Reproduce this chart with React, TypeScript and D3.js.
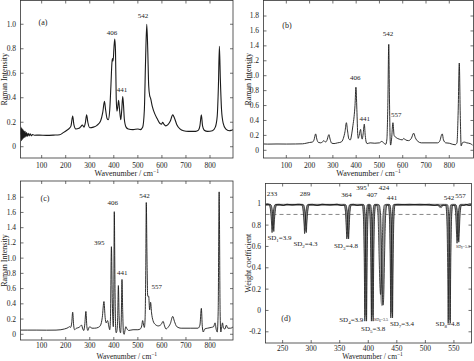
import React from 'react'
import * as d3 from 'd3'

type Pt = [number, number]

// tick values
const specXTicks = [100, 200, 300, 400, 500, 600, 700, 800]
const yTicksA = [0, 0.2, 0.4, 0.6, 0.8, 1.0]
const yTicksBC = [0, 0.2, 0.4, 0.6, 0.8, 1.0, 1.2, 1.4, 1.6, 1.8]
const xTicksD = [250, 300, 350, 400, 450, 500, 550]
const yTicksD = [-0.2, 0, 0.2, 0.4, 0.6, 0.8, 1]

// (a) measured spectrum
const specA: Pt[] = [
  [12, 0.1], [14, 0.16], [16, 0.05], [18, 0.15], [20, 0.06], [22, 0.14], [24, 0.07], [26, 0.13],
  [28, 0.075], [31, 0.125], [34, 0.08], [37, 0.115], [40, 0.085], [44, 0.11], [48, 0.088],
  [52, 0.105], [57, 0.09], [62, 0.1], [70, 0.094], [90, 0.095], [120, 0.093], [150, 0.095],
  [175, 0.098], [190, 0.115], [205, 0.135], [215, 0.15], [222, 0.17], [229, 0.25], [234, 0.18],
  [242, 0.145], [255, 0.15], [263, 0.165], [269, 0.178], [276, 0.16], [282, 0.2], [287, 0.26],
  [292, 0.2], [300, 0.155], [315, 0.16], [330, 0.175], [345, 0.21], [354, 0.28], [361, 0.37],
  [366, 0.3], [372, 0.23], [377, 0.22], [383, 0.3], [388, 0.5], [392, 0.68], [394, 0.72],
  [397, 0.7], [401, 0.82], [404, 0.88], [407, 0.78], [410, 0.4], [413, 0.29], [416, 0.32],
  [420, 0.38], [424, 0.3], [429, 0.22], [433, 0.3], [437, 0.41], [440, 0.35], [444, 0.22],
  [451, 0.16], [460, 0.145], [480, 0.14], [500, 0.145], [510, 0.14], [520, 0.16], [527, 0.3],
  [532, 0.7], [537, 1.0], [541, 0.8], [545, 0.5], [549, 0.42], [553, 0.395], [560, 0.33],
  [570, 0.27], [580, 0.23], [592, 0.19], [599, 0.185], [603, 0.2], [608, 0.185], [616, 0.17],
  [625, 0.18], [635, 0.21], [645, 0.26], [652, 0.235], [662, 0.18], [675, 0.145], [690, 0.13],
  [710, 0.125], [740, 0.125], [752, 0.135], [758, 0.17], [764, 0.26], [769, 0.17], [776, 0.135],
  [790, 0.125], [810, 0.13], [822, 0.16], [830, 0.25], [835, 0.5], [839, 0.82], [843, 0.55],
  [848, 0.3], [855, 0.19], [865, 0.145], [880, 0.13], [890, 0.135], [897, 0.14],
]

// (b) reconstructed spectrum
const specB: Pt[] = [
  [3, 0.085], [20, 0.083], [60, 0.085], [100, 0.084], [140, 0.085], [170, 0.087], [185, 0.095],
  [200, 0.105], [212, 0.11], [219, 0.14], [226, 0.22], [231, 0.15], [238, 0.105], [248, 0.1],
  [256, 0.115], [262, 0.13], [268, 0.11], [274, 0.13], [283, 0.21], [288, 0.15], [295, 0.095],
  [305, 0.09], [320, 0.1], [335, 0.11], [345, 0.16], [352, 0.25], [358, 0.37], [363, 0.26],
  [369, 0.15], [375, 0.14], [381, 0.22], [386, 0.33], [391, 0.45], [395, 0.6], [399, 0.845],
  [403, 0.55], [407, 0.2], [409, 0.16], [413, 0.2], [419, 0.28], [423, 0.18], [426, 0.15],
  [430, 0.22], [435, 0.35], [439, 0.2], [443, 0.11], [447, 0.09], [460, 0.1], [480, 0.095],
  [500, 0.1], [510, 0.12], [518, 0.1], [527, 0.08], [532, 0.15], [536, 0.6], [540, 1.42],
  [543, 0.7], [546, 0.15], [548, 0.07], [552, 0.15], [558, 0.37], [563, 0.2], [572, 0.17],
  [585, 0.15], [598, 0.14], [605, 0.16], [612, 0.14], [625, 0.13], [637, 0.16], [647, 0.23],
  [654, 0.17], [665, 0.12], [680, 0.1], [700, 0.1], [730, 0.1], [750, 0.1], [760, 0.13],
  [766, 0.2], [770, 0.22], [775, 0.14], [785, 0.1], [800, 0.095], [815, 0.08], [825, 0.075],
  [833, 0.1], [838, 0.5], [843, 1.17], [847, 0.5], [851, 0.06], [856, 0.1], [865, 0.11],
  [875, 0.1], [890, 0.09], [900, 0.07],
]

// (c) reconstructed spectrum, sharper bands
const specC: Pt[] = [
  [12, 0.055], [40, 0.055], [80, 0.055], [120, 0.054], [160, 0.055], [180, 0.06], [195, 0.07],
  [205, 0.08], [211, 0.09], [216, 0.1], [220, 0.09], [225, 0.15], [229, 0.29], [233, 0.12],
  [237, 0.06], [245, 0.08], [255, 0.09], [262, 0.11], [266, 0.12], [271, 0.07], [275, 0.05],
  [279, 0.12], [284, 0.3], [288, 0.1], [292, 0.05], [297, 0.09], [301, 0.1], [308, 0.08],
  [320, 0.08], [335, 0.09], [345, 0.12], [352, 0.22], [359, 0.43], [364, 0.22], [368, 0.15],
  [374, 0.18], [379, 0.11], [383, 0.06], [386, 0.2], [390, 1.15], [394, 0.4], [398, 0.1],
  [400, 0.5], [402, 1.61], [405, 0.6], [408, 0.05], [410, 0.02], [413, 0.05], [416, 0.2],
  [419, 0.64], [422, 0.25], [425, 0.05], [428, 0.02], [431, 0.2], [434, 0.72], [437, 0.3],
  [440, 0.02], [443, 0.0], [447, 0.06], [450, 0.1], [455, 0.07], [462, 0.05], [480, 0.06],
  [500, 0.06], [510, 0.07], [516, 0.11], [520, 0.18], [524, 0.12], [527, 0.09], [530, 0.2],
  [533, 0.9], [535, 1.73], [538, 1.0], [541, 0.5], [545, 0.5], [549, 0.32], [553, 0.42],
  [557, 0.28], [563, 0.18], [572, 0.13], [585, 0.11], [597, 0.13], [605, 0.17], [611, 0.11],
  [617, 0.07], [625, 0.09], [635, 0.14], [645, 0.235], [652, 0.17], [662, 0.1], [680, 0.08],
  [720, 0.08], [750, 0.08], [758, 0.12], [764, 0.34], [768, 0.1], [772, 0.03], [778, 0.07],
  [790, 0.08], [805, 0.09], [815, 0.1], [821, 0.15], [826, 0.06], [830, 0.03], [834, 0.3],
  [838, 1.87], [842, 0.3], [845, 0.03], [848, 0.08], [852, 0.15], [856, 0.08], [862, 0.07],
  [868, 0.12], [874, 0.08], [885, 0.08], [897, 0.1],
]

// (d) weight coefficient curves
const weightLeft: Pt[] = [
  [220, 0.99], [224, 0.995],
  [226.5, 0.99], [229, 0.93], [230.7, 0.81], [231.5, 0.73], [232.3, 0.81], [234, 0.93], [236.5, 0.99],
  [244, 0.995], [251, 0.985], [256, 0.995], [266, 0.99], [276, 0.995],
  [283.5, 0.99], [286, 0.93], [287.7, 0.8], [288.5, 0.72], [289.3, 0.8], [291, 0.93], [293.5, 0.99],
  [302, 0.995], [310, 0.985], [318, 0.995], [332, 0.99], [345, 0.995], [352, 0.985],
  [357.5, 0.99], [360, 0.93], [361.7, 0.75], [362.5, 0.67], [363.3, 0.75], [365, 0.93], [367.5, 0.99],
  [374, 0.995], [380, 0.985], [385, 0.99],
  [389.5, 0.99], [391.5, 0.88], [393.2, 0.35], [394, -0.1], [394.8, 0.35], [396.5, 0.88], [398.5, 0.99],
  [401, 0.99], [403, 0.88], [404.7, 0.35], [405.5, -0.1], [406.3, 0.35], [408, 0.88], [410, 0.99],
  [414.5, 0.99], [417, 0.9], [419, 0.5], [420.5, 0.22], [421.5, 0.15], [422.5, 0.22], [424, 0.5], [426, 0.9], [428.5, 0.99],
  [435, 0.99], [437, 0.88], [438.7, 0.35], [439.5, -0.07], [440.3, 0.35], [442, 0.88], [444, 0.99],
  [452, 0.995], [470, 0.99], [490, 0.995], [505, 0.99], [515, 0.985], [521, 0.99], [526, 0.965], [529, 0.99], [532, 0.985],
  [535.5, 0.99], [537.5, 0.88], [539.2, 0.35], [540, -0.12], [540.8, 0.35], [542.5, 0.88], [544.5, 0.99],
  [548, 0.985],
  [550.5, 0.99], [553, 0.92], [554.7, 0.71], [555.5, 0.63], [556.3, 0.71], [558, 0.92], [560.5, 0.99],
  [566, 0.985], [571, 0.995], [575, 0.985], [580, 0.99],
]

const weightRight: Pt[] = [
  [220, 0.99], [226, 0.995],
  [229.5, 0.99], [232, 0.93], [233.7, 0.82], [234.5, 0.74], [235.3, 0.82], [237, 0.93], [239.5, 0.99],
  [246, 0.99], [252, 0.985], [258, 0.995], [268, 0.99], [279, 0.995],
  [286.5, 0.99], [289, 0.93], [290.7, 0.81], [291.5, 0.73], [292.3, 0.81], [294, 0.93], [296.5, 0.99],
  [304, 0.99], [312, 0.985], [320, 0.995], [334, 0.99], [346, 0.995], [354, 0.985],
  [360.5, 0.99], [363, 0.93], [364.7, 0.75], [365.5, 0.67], [366.3, 0.75], [368, 0.93], [370.5, 0.99],
  [376, 0.99], [382, 0.985], [388, 0.99],
  [392.5, 0.99], [394.5, 0.88], [396.2, 0.35], [397, -0.1], [397.8, 0.35], [399.5, 0.88], [401.5, 0.99],
  [404, 0.99], [406, 0.88], [407.7, 0.35], [408.5, -0.1], [409.3, 0.35], [411, 0.88], [413, 0.99],
  [419, 0.99], [421.5, 0.9], [423.5, 0.5], [425, 0.12], [426, 0.05], [427, 0.12], [428.5, 0.5], [430.5, 0.9], [433, 0.99],
  [438, 0.99], [440, 0.88], [441.7, 0.35], [442.5, -0.07], [443.3, 0.35], [445, 0.88], [447, 0.99],
  [455, 0.99], [472, 0.995], [492, 0.99], [507, 0.995], [517, 0.985], [523, 0.99], [528, 0.965], [531, 0.99], [534, 0.985],
  [539, 0.99], [541, 0.88], [542.7, 0.35], [543.5, -0.12], [544.3, 0.35], [546, 0.88], [548, 0.99],
  [550, 0.985],
  [553.5, 0.99], [556, 0.92], [557.7, 0.72], [558.5, 0.64], [559.3, 0.72], [561, 0.92], [563.5, 0.99],
  [568, 0.985], [573, 0.995], [577, 0.985], [580, 0.99],
]

const weightMid: Pt[] = [
  [220, 0.99],
  [228, 0.99], [230.5, 0.93], [232.2, 0.83], [233, 0.76], [233.8, 0.83], [235.5, 0.93], [238, 0.99],
  [285, 0.99], [287.5, 0.93], [289.2, 0.82], [290, 0.75], [290.8, 0.82], [292.5, 0.93], [295, 0.99],
  [359, 0.99], [361.5, 0.93], [363.2, 0.77], [364, 0.7], [364.8, 0.77], [366.5, 0.93], [369, 0.99],
  [391, 0.99], [393, 0.88], [394.7, 0.4], [395.5, -0.05], [396.3, 0.4], [398, 0.88], [400, 0.99],
  [402.5, 0.99], [404.5, 0.88], [406.2, 0.4], [407, -0.05], [407.8, 0.4], [409.5, 0.88], [411.5, 0.99],
  [417, 0.99], [419.5, 0.9], [421.5, 0.5], [423, 0.12], [424, 0.05], [425, 0.12], [426.5, 0.5], [428.5, 0.9], [431, 0.99],
  [436.5, 0.99], [438.5, 0.88], [440.2, 0.4], [441, -0.02], [441.8, 0.4], [443.5, 0.88], [445.5, 0.99],
  [537, 0.99], [539, 0.88], [541.2, 0.4], [542, -0.08], [542.8, 0.4], [544.5, 0.88], [546.5, 0.99],
  [552, 0.99], [554.5, 0.92], [556.2, 0.73], [557, 0.66], [557.8, 0.73], [559.5, 0.92], [562, 0.99],
  [580, 0.99],
]

const threshold = 0.9

// annotations: [text, wavenumber, value]
const peaksA: [string, number, number][] = [['406', 392.5, 0.915], ['441', 434, 0.45], ['542', 521, 1.054]]
const peaksB: [string, number, number][] = [['542', 536.7, 1.536], ['406', 396.3, 0.946], ['441', 436.7, 0.397], ['557', 572.3, 0.45]]
const peaksC: [string, number, number][] = [['406', 395.4, 1.692], ['542', 528, 1.796], ['395', 339.7, 1.167], ['441', 435.3, 0.785], ['557', 578.4, 0.595]]
const peaksD: [string, number, number][] = [
  ['233', 231.4, 1.069], ['289', 289.2, 1.069], ['364', 361.8, 1.06], ['395', 388.1, 1.125], ['407', 406.5, 1.06],
  ['424', 427.5, 1.125], ['441', 441.5, 1.04], ['542', 541.3, 1.04], ['557', 561.4, 1.055],
]
// [index, sd value, wavenumber, value, small]
const sdLabels: [string, string, number, number, boolean][] = [
  ['1', '3.9', 244.5, 0.657, false], ['2', '4.3', 290, 0.606, false], ['3', '4.8', 361, 0.581, false],
  ['4', '3.9', 370.2, -0.109, false], ['5', '3.8', 408.6, -0.19, false], ['6', '3.5', 422.2, -0.1, true],
  ['7', '3.4', 459, -0.15, false], ['8', '4.8', 539, -0.15, false], ['9', '5.3', 565.8, 0.588, true],
]

const FONT = 'Liberation Serif, Times New Roman, serif'

interface PanelCfg {
  id: string
  box: { l: number; r: number; t: number; b: number }
  xDomain: [number, number]
  yDomain: [number, number]
  xTicks: number[]
  yTicks: number[]
  fmt: (v: number) => string
  yTitle: string
  yTitleX: number
  xTitleY: number
  xLabelGap: number
  tag: [number, number]
}

const fmtSpec = (v: number) => (v === 0 ? '0' : v.toFixed(1))
const fmtD = (v: number) => (v === 0 ? '0' : v === 1 ? '1' : v.toFixed(1))

const cfgA: PanelCfg = {
  id: 'a', box: { l: 20.5, r: 233, t: 0.5, b: 158 }, xDomain: [12, 895.6], yDomain: [-0.092, 1.194],
  xTicks: specXTicks, yTicks: yTicksA, fmt: fmtSpec, yTitle: 'Raman Intensity', yTitleX: 6.5, xTitleY: 176,
  xLabelGap: 9.5, tag: [105.6, 0.997],
}
const cfgB: PanelCfg = {
  id: 'b', box: { l: 263.5, r: 473.5, t: 0.5, b: 158 }, xDomain: [2, 904], yDomain: [-0.103, 2.008],
  xTicks: specXTicks, yTicks: yTicksBC, fmt: fmtSpec, yTitle: 'Raman Intensity', yTitleX: 250.5, xTitleY: 176,
  xLabelGap: 9.5, tag: [103, 1.643],
}
const cfgC: PanelCfg = {
  id: 'c', box: { l: 20.5, r: 233, t: 181, b: 340 }, xDomain: [12, 895.6], yDomain: [-0.075, 2.013],
  xTicks: specXTicks, yTicks: yTicksBC, fmt: fmtSpec, yTitle: 'Raman Intensity', yTitleX: 6.5, xTitleY: 358.5,
  xLabelGap: 8, tag: [114, 1.744],
}
const cfgD: PanelCfg = {
  id: 'd', box: { l: 265.5, r: 471.5, t: 183.5, b: 343 }, xDomain: [220, 580.8], yDomain: [-0.305, 1.19],
  xTicks: xTicksD, yTicks: yTicksD, fmt: fmtD, yTitle: 'Weight coefficient', yTitleX: 251, xTitleY: 359.3,
  xLabelGap: 7.5, tag: [255.9, -0.1],
}

function Frame({ cfg, children }: { cfg: PanelCfg; children: (x: d3.ScaleLinear<number, number>, y: d3.ScaleLinear<number, number>) => React.ReactNode }) {
  const { box } = cfg
  const x = d3.scaleLinear().domain(cfg.xDomain).range([box.l, box.r])
  const y = d3.scaleLinear().domain(cfg.yDomain).range([box.b, box.t])
  const tl = 3
  const midY = (box.t + box.b) / 2
  return (
    <g fontFamily={FONT} fill="#222">
      <defs>
        <clipPath id={`clip-${cfg.id}`}>
          <rect x={box.l} y={box.t} width={box.r - box.l} height={box.b - box.t} />
        </clipPath>
      </defs>
      <g clipPath={`url(#clip-${cfg.id})`}>{children(x, y)}</g>
      <rect x={box.l} y={box.t} width={box.r - box.l} height={box.b - box.t} fill="none" stroke="#333" strokeWidth={0.8} />
      {cfg.xTicks.map((t) => (
        <g key={`x${t}`}>
          <line x1={x(t)} x2={x(t)} y1={box.b} y2={box.b - tl} stroke="#333" strokeWidth={0.7} />
          <line x1={x(t)} x2={x(t)} y1={box.t} y2={box.t + tl} stroke="#333" strokeWidth={0.7} />
          <text x={x(t)} y={box.b + cfg.xLabelGap} fontSize={7.5} textAnchor="middle">{t}</text>
        </g>
      ))}
      {cfg.yTicks.map((t) => (
        <g key={`y${t}`}>
          <line x1={box.l} x2={box.l + tl} y1={y(t)} y2={y(t)} stroke="#333" strokeWidth={0.7} />
          <line x1={box.r} x2={box.r - tl} y1={y(t)} y2={y(t)} stroke="#333" strokeWidth={0.7} />
          <text x={box.l - 4.5} y={y(t)} dy="0.33em" fontSize={7.5} textAnchor="end">{cfg.fmt(t)}</text>
        </g>
      ))}
      <text x={(box.l + box.r) / 2 + (cfg.id === 'd' ? 4 : 0)} y={cfg.xTitleY} fontSize={cfg.id === 'a' || cfg.id === 'b' ? 8 : 7.5} textAnchor="middle">
        Wavenumber / cm<tspan dy={-3} fontSize={5.5}>−1</tspan>
      </text>
      <text transform={`translate(${cfg.yTitleX},${midY}) rotate(-90)`} fontSize={8} textAnchor="middle">
        {cfg.yTitle}
      </text>
      <text x={x(cfg.tag[0])} y={y(cfg.tag[1])} fontSize={8} textAnchor="middle">({cfg.id})</text>
    </g>
  )
}

function Spectrum({ cfg, data, peaks, width }: { cfg: PanelCfg; data: Pt[]; peaks: [string, number, number][]; width: number }) {
  return (
    <Frame cfg={cfg}>
      {(x, y) => {
        const line = d3.line<Pt>().x((d) => x(d[0])).y((d) => y(d[1])).curve(d3.curveMonotoneX)
        return (
          <>
            <path d={line(data) ?? ''} fill="none" stroke="#1a1a1a" strokeWidth={width} strokeLinejoin="round" />
            {peaks.map(([t, wn, v]) => (
              <text key={t} x={x(wn)} y={y(v)} fontSize={7} textAnchor="middle">{t}</text>
            ))}
          </>
        )
      }}
    </Frame>
  )
}

function WeightPanel({ cfg }: { cfg: PanelCfg }) {
  return (
    <Frame cfg={cfg}>
      {(x, y) => {
        const line = d3.line<Pt>().x((d) => x(d[0])).y((d) => y(d[1])).curve(d3.curveMonotoneX)
        return (
          <>
            <line x1={x(cfg.xDomain[0])} x2={x(cfg.xDomain[1])} y1={y(threshold)} y2={y(threshold)} stroke="#555" strokeWidth={0.7} strokeDasharray="4,3" />
            <path d={line(weightMid) ?? ''} fill="none" stroke="#9a9a9a" strokeWidth={2.2} />
            <path d={line(weightLeft) ?? ''} fill="none" stroke="#1a1a1a" strokeWidth={0.8} />
            <path d={line(weightRight) ?? ''} fill="none" stroke="#1a1a1a" strokeWidth={0.8} />
            {peaksD.map(([t, wn, v]) => (
              <text key={t} x={x(wn)} y={y(v)} fontSize={7} textAnchor="middle">{t}</text>
            ))}
            {sdLabels.map(([i, sd, wn, v, small]) => (
              <text key={i} x={x(wn)} y={y(v)} fontSize={small ? 4 : 7} textAnchor="middle">
                SD<tspan dy={small ? 1 : 1.8} fontSize={small ? 3 : 5}>{i}</tspan>
                <tspan dy={small ? -1 : -1.8}>={sd}</tspan>
              </text>
            ))}
          </>
        )
      }}
    </Frame>
  )
}

export default function App() {
  return (
    <svg width={474} height={361} style={{ position: 'absolute', left: 0, top: 0, background: '#fff' }}>
      <rect width={474} height={361} fill="#fff" />
      <Spectrum cfg={cfgA} data={specA} peaks={peaksA} width={1.1} />
      <Spectrum cfg={cfgB} data={specB} peaks={peaksB} width={0.9} />
      <Spectrum cfg={cfgC} data={specC} peaks={peaksC} width={0.9} />
      <WeightPanel cfg={cfgD} />
    </svg>
  )
}
